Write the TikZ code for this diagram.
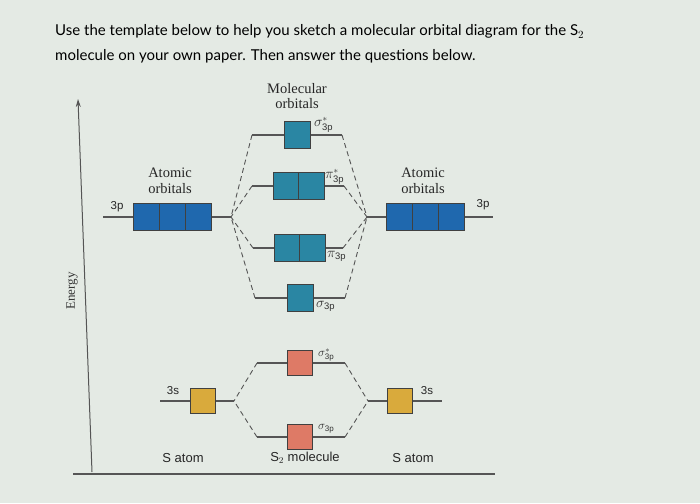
\documentclass[tikz,border=0pt]{standalone}
\usepackage{amsmath}
\usepackage{fontspec}
\setmainfont{Liberation Serif}
\newfontfamily\titlefont{Lato}
\newfontfamily\lblfont{Liberation Sans}
\usetikzlibrary{arrows.meta}
\definecolor{bgc}{HTML}{E4EAE4}
\definecolor{moblue}{HTML}{2A86A3}
\definecolor{aoblue}{HTML}{1F68AE}
\definecolor{ybox}{HTML}{D9AA3C}
\definecolor{sbox}{HTML}{DE7A66}
\definecolor{ln}{HTML}{555555}
\newcommand{\mol}[1]{$#1_{\text{\lblfont 3p}}$}
\tikzset{
  orb/.style={draw=black!75, line width=0.7pt, minimum width=26pt, minimum height=27pt, inner sep=0pt, outer sep=0pt},
  mob/.style={orb, fill=moblue},
  aob/.style={orb, fill=aoblue},
  yb/.style={orb, fill=ybox, minimum width=25pt, minimum height=25pt},
  sb/.style={orb, fill=sbox, minimum width=25pt, minimum height=25pt},
  lev/.style={draw=ln, line width=1.1pt},
  corr/.style={draw=ln, line width=0.9pt, dash pattern=on 5pt off 3.5pt},
  serifl/.style={font=\fontsize{14.5}{15.5}\selectfont, align=center, text=black!85},
  sansl/.style={font=\lblfont\fontsize{11.5}{12}\selectfont, text=black!85},
  mol/.style={font=\fontsize{13.5}{14}\selectfont, text=black!80, anchor=west, inner sep=0pt},
  title/.style={font=\titlefont\fontsize{15}{16}\selectfont, anchor=base west, inner sep=0pt, text=black}
}
\begin{document}
\begin{tikzpicture}[x=1pt, y=-1pt]
\fill[bgc] (0,0) rectangle (700,503);
\useasboundingbox (0,0) rectangle (700,503);

% title
\node[title] (t1) at (55,36) {Use the template below to help you sketch a molecular orbital diagram for the S$_2$};
\node[title] (t2) at (55,60) {molecule on your own paper. Then answer the questions below.};

% axes
\coordinate (eb) at (92,472);
\coordinate (et) at (78,99);
\draw[ln, line width=1pt, -{Stealth[length=8pt,width=5pt]}] (eb) -- (et);
\coordinate (bl) at (73,474);
\coordinate (br) at (495,474);
\draw[ln, line width=1.1pt] (bl) -- (br);
\node[rotate=90, font=\fontsize{13}{13}\selectfont, text=black!80] (en) at (72,291) {Energy};

% headings
\node[serifl] (mo) at (297,96) {Molecular\\orbitals};
\node[serifl] (aol) at (170,181) {Atomic\\orbitals};
\node[serifl] (aor) at (423,181) {Atomic\\orbitals};

% ---- 3p atomic orbitals
\coordinate (L3p) at (231,217);
\coordinate (L3pe) at (103,217);
\coordinate (R3p) at (367,217);
\coordinate (R3pe) at (493,217);
\draw[lev] (L3pe) -- (L3p);
\draw[lev] (R3p) -- (R3pe);
\node[aob] (la1) at (146,217) {};
\node[aob] (la2) at (172,217) {};
\node[aob] (la3) at (198,217) {};
\node[aob] (ra1) at (399,217) {};
\node[aob] (ra2) at (425,217) {};
\node[aob] (ra3) at (451,217) {};
\node[sansl] (l3p) at (117,207) {3p};
\node[sansl] (r3p) at (483,205) {3p};

% ---- sigma* 3p
\coordinate (ssL) at (252,135);
\coordinate (ssR) at (342,135);
\draw[lev] (ssL) -- (ssR);
\node[mob] (ss) at (297,135) {};
\node[mol] (ssl) at (314,125) {\mol{\sigma^{*}}};
% ---- pi* 3p
\coordinate (ppL) at (252,186);
\coordinate (ppR) at (344,186);
\draw[lev] (ppL) -- (ppR);
\node[mob, minimum width=25.5pt] (pp1) at (285.75,186) {};
\node[mob, minimum width=25.5pt] (pp2) at (311.25,186) {};
\node[mol] (ppl) at (325,177) {\mol{\pi^{*}}};
% ---- pi 3p
\coordinate (pL) at (253,248);
\coordinate (pR) at (343,248);
\draw[lev] (pL) -- (pR);
\node[mob, minimum width=25.5pt] (p1) at (286.75,248) {};
\node[mob, minimum width=25.5pt] (p2) at (312.25,248) {};
\node[mol] (pl) at (327,256) {\mol{\pi}};
% ---- sigma 3p
\coordinate (sL) at (255,298);
\coordinate (sR) at (345,298);
\draw[lev] (sL) -- (sR);
\node[mob] (s) at (300,298) {};
\node[mol] (sl) at (316,306) {\mol{\sigma}};

% correlation lines 3p
\draw[corr] (ssL) -- (L3p);
\draw[corr] (ppL) -- (L3p);
\draw[corr] (pL) -- (L3p);
\draw[corr] (sL) -- (L3p);
\draw[corr] (ssR) -- (R3p);
\draw[corr] (ppR) -- (R3p);
\draw[corr] (pR) -- (R3p);
\draw[corr] (sR) -- (R3p);

% ---- 3s atomic orbitals
\coordinate (L3s) at (234,401);
\coordinate (L3se) at (160,401);
\coordinate (R3s) at (368,401);
\coordinate (R3se) at (442,401);
\draw[lev] (L3se) -- (L3s);
\draw[lev] (R3s) -- (R3se);
\node[yb] (ly) at (203,401) {};
\node[yb] (ry) at (400,401) {};
\node[sansl] (l3s) at (173,391) {3s};
\node[sansl] (r3s) at (427,391) {3s};

% ---- sigma* 3s
\coordinate (ysL) at (257,363);
\coordinate (ysR) at (345,363);
\draw[lev] (ysL) -- (ysR);
\node[sb] (ys) at (300,363) {};
\node[mol, font=\fontsize{12}{13}\selectfont] (ysl) at (318,355) {\mol{\sigma^{*}}};
% ---- sigma 3s
\coordinate (yL) at (257,437);
\coordinate (yR) at (345,437);
\draw[lev] (yL) -- (yR);
\node[sb] (y) at (300,437) {};
\node[mol, font=\fontsize{12}{13}\selectfont] (yl) at (318,429) {\mol{\sigma}};

\draw[corr] (ysL) -- (L3s);
\draw[corr] (yL) -- (L3s);
\draw[corr] (ysR) -- (R3s);
\draw[corr] (yR) -- (R3s);

% bottom labels
\node[sansl, font=\lblfont\fontsize{13}{13}\selectfont] (sa1) at (183,458) {S atom};
\node[sansl, font=\lblfont\fontsize{13}{13}\selectfont] (s2m) at (305,458) {S$_2$ molecule};
\node[sansl, font=\lblfont\fontsize{13}{13}\selectfont] (sa2) at (413,458) {S atom};
\end{tikzpicture}
\end{document}
